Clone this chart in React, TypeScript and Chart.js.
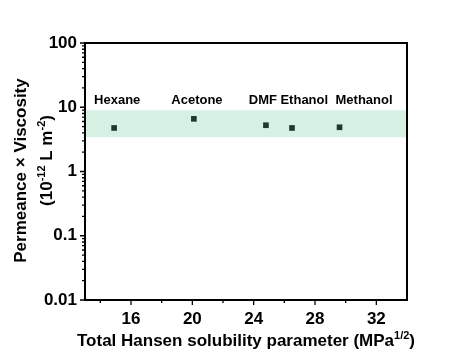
import React, { useEffect, useRef } from "react";
import { Chart, registerables } from "chart.js";

Chart.register(...registerables);

const solvents = ["Hexane", "Acetone", "DMF", "Ethanol", "Methanol"];
const hansen = [14.9, 20.1, 24.8, 26.5, 29.6];
const permVisc = [4.76, 6.6, 5.25, 4.76, 4.88];
const labelX = [15.1, 20.3, 24.6, 27.3, 31.2];
const labelY = 12.8;
const bandLow = 3.4;
const bandHigh = 9.0;
const xMin = 13;
const xMax = 34;
const xMajorTicks = [16, 20, 24, 28, 32];
const xMinorTicks = [14, 18, 22, 26, 30];
const yMajorTicks = [0.01, 0.1, 1, 10, 100];
const xTitle = "Total Hansen solubility parameter (MPa";
const xTitleSup = "1/2";
const yTitle1 = "Permeance × Viscosity";

const FONT = "'Liberation Sans', Arial, sans-serif";

const overlay = {
  id: "overlay",
  afterDatasetsDraw(chart: any) {
    const { ctx, chartArea: a, scales } = chart;
    const xs = scales.x;
    const ys = scales.y;
    ctx.save();
    // labels
    ctx.fillStyle = "#000";
    ctx.font = `bold 13px ${FONT}`;
    ctx.textAlign = "center";
    ctx.textBaseline = "middle";
    solvents.forEach((s, i) => {
      ctx.fillText(s, xs.getPixelForValue(labelX[i]), ys.getPixelForValue(labelY));
    });
    // frame
    ctx.strokeStyle = "#000";
    ctx.lineWidth = 2;
    ctx.strokeRect(a.left, a.top, a.right - a.left, a.bottom - a.top);
    // ticks
    ctx.lineWidth = 1.3;
    ctx.beginPath();
    for (let d = 0; d < yMajorTicks.length; d++) {
      const base = yMajorTicks[d];
      const py = ys.getPixelForValue(base);
      ctx.moveTo(a.left, py);
      ctx.lineTo(a.left - 5, py);
      if (d < yMajorTicks.length - 1) {
        for (let k = 2; k <= 9; k++) {
          const p = ys.getPixelForValue(base * k);
          ctx.moveTo(a.left, p);
          ctx.lineTo(a.left - 3, p);
        }
      }
    }
    xMajorTicks.forEach((v) => {
      const px = xs.getPixelForValue(v);
      ctx.moveTo(px, a.bottom);
      ctx.lineTo(px, a.bottom + 5);
    });
    xMinorTicks.forEach((v) => {
      const px = xs.getPixelForValue(v);
      ctx.moveTo(px, a.bottom);
      ctx.lineTo(px, a.bottom + 3);
    });
    ctx.stroke();

    // x title
    ctx.fillStyle = "#000";
    ctx.textBaseline = "alphabetic";
    ctx.textAlign = "left";
    ctx.font = `bold 17px ${FONT}`;
    const w1 = ctx.measureText(xTitle).width;
    ctx.font = `bold 11px ${FONT}`;
    const w2 = ctx.measureText(xTitleSup).width;
    ctx.font = `bold 17px ${FONT}`;
    const w3 = ctx.measureText(")").width;
    const total = w1 + w2 + w3;
    const cx = (a.left + a.right) / 2;
    let x0 = cx - total / 2;
    const by = 346;
    ctx.fillText(xTitle, x0, by);
    x0 += w1;
    ctx.font = `bold 11px ${FONT}`;
    ctx.fillText(xTitleSup, x0, by - 7);
    x0 += w2;
    ctx.font = `bold 17px ${FONT}`;
    ctx.fillText(")", x0, by);

    // y title
    ctx.save();
    const cy = (a.top + a.bottom) / 2 - 1;
    ctx.translate(0, cy);
    ctx.rotate(-Math.PI / 2);
    ctx.textAlign = "center";
    ctx.font = `bold 17px ${FONT}`;
    ctx.fillText(yTitle1, 0, 26);
    const parts: [string, boolean][] = [["(10", false], ["-12", true], [" L m", false], ["-2", true], [")", false]];
    let tw = 0;
    parts.forEach(([t, sup]) => {
      ctx.font = sup ? `bold 11px ${FONT}` : `bold 17px ${FONT}`;
      tw += ctx.measureText(t).width;
    });
    ctx.textAlign = "left";
    let sx = -tw / 2 + 10;
    parts.forEach(([t, sup]) => {
      ctx.font = sup ? `bold 11px ${FONT}` : `bold 17px ${FONT}`;
      ctx.fillText(t, sx, sup ? 45 : 52);
      sx += ctx.measureText(t).width;
    });
    ctx.restore();
    ctx.restore();
  },
};

export default function App() {
  const ref = useRef<HTMLCanvasElement>(null);
  useEffect(() => {
    if (!ref.current) return;
    const pts = hansen.map((x, i) => ({ x, y: permVisc[i] }));
    const chart = new Chart(ref.current, {
      type: "scatter",
      data: {
        datasets: [
          {
            data: pts,
            pointStyle: "rect",
            pointRadius: 4,
            pointBackgroundColor: "#1e3a2e",
            pointBorderColor: "#1e3a2e",
            pointBorderWidth: 0,
          },
          {
            type: "line",
            data: [{ x: xMin, y: bandHigh }, { x: xMax, y: bandHigh }],
            borderWidth: 0,
            pointRadius: 0,
            backgroundColor: "#d6f0e4",
            fill: "+1",
          } as any,
          {
            type: "line",
            data: [{ x: xMin, y: bandLow }, { x: xMax, y: bandLow }],
            borderWidth: 0,
            pointRadius: 0,
            fill: false,
          } as any,
        ],
      },
      options: {
        animation: false,
        responsive: false,
        maintainAspectRatio: false,
        layout: { padding: { top: 43, right: 67, left: 0, bottom: 0 } },
        plugins: { legend: { display: false }, tooltip: { enabled: false } },
        scales: {
          x: {
            type: "linear",
            min: xMin,
            max: xMax,
            afterFit: (s: any) => {
              s.height = 62;
            },
            afterBuildTicks: (s: any) => {
              s.ticks = xMajorTicks.map((v) => ({ value: v }));
            },
            ticks: {
              padding: 9,
              color: "#000",
              font: { family: FONT, size: 17, weight: "bold" },
              callback: (v: any) => String(v),
              maxRotation: 0,
            },
            grid: { display: false, drawTicks: false },
            border: { display: false },
          },
          y: {
            type: "logarithmic",
            min: 0.01,
            max: 100,
            afterFit: (s: any) => {
              s.width = 85;
            },
            afterBuildTicks: (s: any) => {
              s.ticks = yMajorTicks.map((v) => ({ value: v }));
            },
            ticks: {
              padding: 8,
              color: "#000",
              font: { family: FONT, size: 17, weight: "bold" },
              callback: (v: any) => String(v),
            },
            grid: { display: false, drawTicks: false },
            border: { display: false },
          },
        },
      },
      plugins: [overlay],
    });
    return () => chart.destroy();
  }, []);
  return (
    <div style={{ position: "absolute", left: 0, top: 0, width: 474, height: 362, background: "#fff" }}>
      <canvas ref={ref} width={474} height={362} style={{ width: 474, height: 362 }} />
    </div>
  );
}
